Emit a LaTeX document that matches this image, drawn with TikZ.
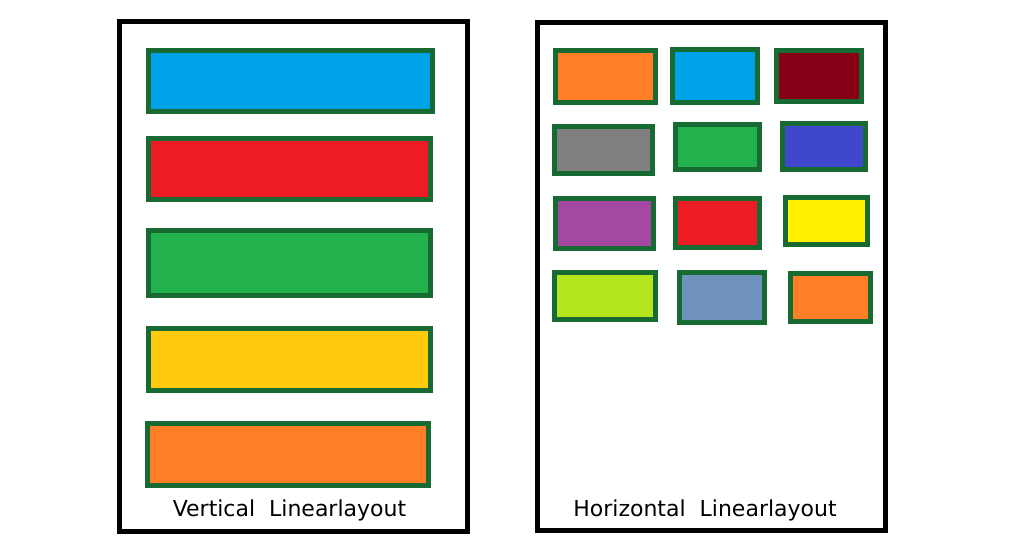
\documentclass[tikz,border=0pt]{standalone}
\usepackage{fontspec}
\setmainfont{DejaVu Sans}
\definecolor{tileborder}{HTML}{186A33}
\definecolor{skyblue}{HTML}{00A2E8}
\definecolor{brightred}{HTML}{ED1C24}
\definecolor{leafgreen}{HTML}{22B14C}
\definecolor{amber}{HTML}{FFC90E}
\definecolor{tangerine}{HTML}{FF7F27}
\definecolor{maroon}{HTML}{880015}
\definecolor{midgray}{HTML}{7F7F7F}
\definecolor{indigo}{HTML}{3F48CC}
\definecolor{violet}{HTML}{A349A4}
\definecolor{lemon}{HTML}{FFF200}
\definecolor{lime}{HTML}{B5E61D}
\definecolor{steel}{HTML}{7092BE}

\begin{document}
\begin{tikzpicture}[x=1pt,y=-1pt,
  frame/.style={draw=black, line width=5pt, inner sep=0pt},
  tile/.style={draw=tileborder, line width=5pt, fill=#1, inner sep=0pt},
  caption/.style={anchor=base, font=\fontsize{22}{26}\selectfont}]
  \useasboundingbox (0,0) rectangle (1027,549);

  % vertical layout
  \node[frame, minimum width=348, minimum height=510] (vframe) at (293.5,276.5) {};
  \node[tile=skyblue, minimum width=284, minimum height=61] (v1) at (290.5,81) {};
  \node[tile=brightred, minimum width=282, minimum height=61] (v2) at (289.5,169) {};
  \node[tile=leafgreen, minimum width=282, minimum height=65] (v3) at (289.5,263) {};
  \node[tile=amber, minimum width=282, minimum height=62] (v4) at (289.5,359.5) {};
  \node[tile=tangerine, minimum width=280.5, minimum height=62] (v5) at (287.75,454.5) {};
  \node[caption] (vlabel) at (289.5,516.7) {Vertical\ \ Linearlayout};

  % horizontal layout
  \node[frame, minimum width=348, minimum height=507.5] (hframe) at (711.5,276.25) {};
  \node[tile=tangerine, minimum width=100, minimum height=51.5] (h11) at (605.5,76.25) {};
  \node[tile=skyblue, minimum width=85, minimum height=52.5] (h12) at (715,75.75) {};
  \node[tile=maroon, minimum width=85, minimum height=51] (h13) at (819,76) {};
  \node[tile=midgray, minimum width=98, minimum height=46.5] (h21) at (603.5,149.75) {};
  \node[tile=leafgreen, minimum width=84, minimum height=45] (h22) at (717.5,147) {};
  \node[tile=indigo, minimum width=83, minimum height=46] (h23) at (824,146.5) {};
  \node[tile=violet, minimum width=98, minimum height=49.5] (h31) at (604.5,223.25) {};
  \node[tile=brightred, minimum width=84, minimum height=48.5] (h32) at (717.5,222.75) {};
  \node[tile=lemon, minimum width=82, minimum height=47] (h33) at (826.5,221) {};
  \node[tile=lime, minimum width=101, minimum height=47] (h41) at (605,296) {};
  \node[tile=steel, minimum width=85, minimum height=50] (h42) at (722,297.5) {};
  \node[tile=tangerine, minimum width=80, minimum height=48] (h43) at (830.5,297.5) {};
  \node[caption] (hlabel) at (705,516) {Horizontal\ \ Linearlayout};
\end{tikzpicture}
\end{document}
